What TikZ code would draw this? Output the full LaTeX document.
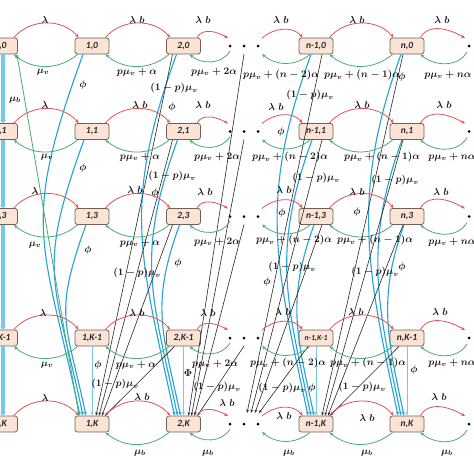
\documentclass[tikz,border=0pt]{standalone}
\usepackage{fontspec}
\newfontfamily\nodefont{Carlito}
\usetikzlibrary{arrows.meta}
\definecolor{redarc}{RGB}{222,84,84}
\definecolor{greenarc}{RGB}{72,172,118}
\definecolor{phiblue}{RGB}{34,164,214}
\definecolor{lightphi}{RGB}{120,200,232}
\definecolor{nodefill}{RGB}{251,228,214}
\definecolor{nodeedge}{RGB}{112,96,88}
\tikzset{
  st/.style={draw=nodeedge, fill=nodefill, rounded corners=2.5pt, line width=0.8pt,
    minimum width=34pt, minimum height=16pt, inner sep=0pt,
    font=\nodefont\bfseries\itshape\fontsize{9.5}{10}\selectfont, text=black!85},
  dotn/.style={circle, fill=black, inner sep=0pt, minimum size=3pt},
  ra/.style={draw=redarc, line width=0.8pt, -{Stealth[length=4pt,width=3.2pt]}},
  ga/.style={draw=greenarc, line width=0.8pt, -{Stealth[length=4pt,width=3.2pt]}},
  pa/.style={draw=phiblue, line width=1.1pt, -{Stealth[length=4pt,width=3pt]}},
  pl/.style={draw=lightphi, line width=1pt, -{Stealth[length=4pt,width=3pt]}},
  band/.style={draw=lightphi, line width=4.5pt, -{Stealth[length=3pt,width=6pt]}},
  ba/.style={draw=black!85, line width=0.6pt, -{Stealth[length=3.5pt,width=2.6pt]}},
  lab/.style={font=\fontsize{10.3}{12}\selectfont\boldmath, inner sep=0pt, text=black!90},
}
\begin{document}
\begin{tikzpicture}[x=1pt,y=-1pt]
\useasboundingbox (0,0) rectangle (474,474);
\fill[white] (0,0) rectangle (474,474);
\clip (0,0) rectangle (474,474);

% ---------------- nodes ----------------
\foreach \r/\y/\t in {0/46/0, 1/131.5/1, 3/216.5/3, K/424/K} {
  \node[st] (s0\r) at (0.5,\y) {0,\t};
  \node[st] (s1\r) at (92,\y) {1,\t};
  \node[st] (s2\r) at (183.5,\y) {2,\t};
  \node[st] (sm\r) at (316,\y) {n-1,\t};
  \node[st] (sn\r) at (407,\y) {n,\t};
}
\node[st] (s0k) at (0.5,338) {0,K-1};
\node[st] (s1k) at (92,338) {1,K-1};
\node[st] (s2k) at (183.5,338) {2,K-1};
\node[st,font=\nodefont\bfseries\itshape\fontsize{7.8}{9}\selectfont] (smk) at (316,338) {n-1,K-1};
\node[st] (snk) at (407,338) {n,K-1};
\foreach \r/\y in {0/46, 1/131.5, 3/216.5, k/338, K/424} {
  \node[dotn] (da\r) at (230,\y) {};
  \node[dotn] (db\r) at (244,\y) {};
  \node[dotn] (dc\r) at (258,\y) {};
  \node[dotn] (de\r) at (469,\y) {};
}
\node[dotn] (vd1) at (3,265) {};
\node[dotn] (vd2) at (3,277) {};
\node[dotn] (vd3) at (3,288) {};

% ---------------- column 0 band ----------------
\draw[band] ([shift={(2.5,0)}]s00.south) -- ([shift={(2.5,0)}]s01.north);
\draw[band] ([shift={(2.5,0)}]s01.south) -- ([shift={(2.5,0)}]s03.north);
\draw[band] ([shift={(2.5,0)}]s03.south) -- ([shift={(2.5,0)}]s0k.north);
\draw[band] ([shift={(2.5,0)}]s0k.south) -- ([shift={(2.5,0)}]s0K.north);

% ---------------- phi lines (blue) ----------------
\foreach \c/\a/\b/\e in {1/-9/-12/1.3, 2/-7/-9/1.15, m/-5/-8/1.1, n/-6/-9/1.05} {
  \draw[pa] ([shift={(\a,0)}]s\c0.south) to[out=-110,in=102,looseness=\e] ([shift={(\b,0)}]s\c K.north);
  \draw[pa] ([shift={(\a+1,0)}]s\c1.south) to[out=-110,in=102,looseness=\e] ([shift={(\b+3,0)}]s\c K.north);
  \draw[pa] ([shift={(\a+3,0)}]s\c3.south) to[out=-110,in=102,looseness=\e] ([shift={(\b+6,0)}]s\c K.north);
  \draw[pl] (s\c k.south) -- (s\c K.north);
}

% ---------------- (1-p)mu_v lines (black) ----------------
\draw[ba] ([shift={(-11,0)}]s20.south) -- ([shift={(4,0)}]s1K.north);
\draw[ba] ([shift={(-11,0)}]s21.south) -- ([shift={(7,0)}]s1K.north);
\draw[ba] ([shift={(-11,0)}]s23.south) -- ([shift={(10,0)}]s1K.north);
\draw[ba] ([shift={(-9,0)}]s2k.south) -- ([shift={(13,0)}]s1K.north);
\draw[ba] ([shift={(0,8)}]db0.center) -- ([shift={(5,0)}]s2K.north);
\draw[ba] ([shift={(0,8)}]db1.center) -- ([shift={(8,0)}]s2K.north);
\draw[ba] ([shift={(0,8)}]db3.center) -- ([shift={(11,0)}]s2K.north);
\draw[ba] ([shift={(0,8)}]dbk.center) -- ([shift={(14,0)}]s2K.north);
\draw[ba] ([shift={(6,0)}]sm0.south) -- ([shift={(3,-11)}]dbK.center);
\draw[ba] ([shift={(6,0)}]sm1.south) -- ([shift={(7,-11)}]dbK.center);
\draw[ba] ([shift={(6,0)}]sm3.south) -- ([shift={(11,-11)}]dbK.center);
\draw[ba] ([shift={(-8,0)}]smk.south) -- ([shift={(15,-11)}]dbK.center);
\draw[ba] ([shift={(-4,0)}]sn0.south) -- ([shift={(6,0)}]smK.north);
\draw[ba] ([shift={(-4,0)}]sn1.south) -- ([shift={(9,0)}]smK.north);
\draw[ba] ([shift={(-4,0)}]sn3.south) -- ([shift={(12,0)}]smK.north);
\draw[ba] ([shift={(-8,0)}]snk.south) -- ([shift={(14,0)}]smK.north);

% green repair line
\draw[ga] ([shift={(-13,0)}]s1K.north) -- ([shift={(-1,0)}]s00.south east);

% ---------------- red forward arcs ----------------
\foreach \r in {0,1,3,k,K} {
  \draw[ra] ([shift={(-4,0)}]s0\r.north east) to[out=50,in=130] ([shift={(4,0)}]s1\r.north west);
  \draw[ra] ([shift={(-4,0)}]s1\r.north east) to[out=50,in=130] ([shift={(4,0)}]s2\r.north west);
  \draw[ra] ([shift={(-4,0)}]s2\r.north east) to[out=60,in=150] ([shift={(-2,-8)}]da\r.center);
  \draw[ra] ([shift={(4,-8)}]dc\r.center) to[out=40,in=130] ([shift={(4,0)}]sm\r.north west);
  \draw[ra] ([shift={(-4,0)}]sm\r.north east) to[out=50,in=130] ([shift={(4,0)}]sn\r.north west);
  \draw[ra] ([shift={(-4,0)}]sn\r.north east) to[out=60,in=150] ([shift={(-4,-8)}]de\r.center);
}
% ---------------- green backward arcs ----------------
\foreach \r in {0,1,3,k} {
  \draw[ga] ([shift={(3,0)}]s1\r.south west) to[out=-140,in=-40] ([shift={(-4,0)}]s0\r.south east);
}
\foreach \r in {0,1,3,k,K} {
  \draw[ga] ([shift={(3,0)}]s2\r.south west) to[out=-140,in=-40] ([shift={(-4,0)}]s1\r.south east);
  \draw[ga] ([shift={(0,5)}]da\r.center) to[out=-120,in=-40] ([shift={(6,0)}]s2\r.south);
  \draw[ga] ([shift={(-6,0)}]sm\r.south) to[out=-140,in=-40] ([shift={(4,8)}]dc\r.center);
  \draw[ga] ([shift={(3,0)}]sn\r.south west) to[out=-140,in=-40] ([shift={(-4,0)}]sm\r.south east);
  \draw[ga] ([shift={(-2,6)}]de\r.center) to[out=-120,in=-40] ([shift={(-4,0)}]sn\r.south east);
}

% ---------------- labels ----------------
% row 0
\node[lab] (l01) at (45,20) {$\lambda$};
\node[lab] (l02) at (137,20) {$\lambda\ b$};
\node[lab] (l03) at (203,20) {$\lambda\ b$};
\node[lab] (l04) at (281,20) {$\lambda\ b$};
\node[lab] (l05) at (357,20) {$\lambda\ b$};
\node[lab] (l06) at (442,20) {$\lambda\ b$};
\node[lab] (g01) at (43,72) {$\mu_v$};
\node[lab] (g02) at (137,72) {$p\mu_v+\alpha$};
\node[lab] (g03) at (214,72) {$p\mu_v+2\alpha$};
\node[lab] (g04) at (281,75) {$p\mu_v+(n-2)\alpha$};
\node[lab] (g05) at (362,75) {$p\mu_v+(n-1)\alpha$};
\node[lab] (g06) at (448,75) {$p\mu_v+n\alpha$};
\node[lab] (mb0) at (15,100) {$\mu_b$};
\node[lab] (f01) at (83,85) {$\phi$};
\node[lab] (f02) at (172,107) {$\phi$};
\node[lab] (f03) at (402,77) {$\phi$};
\node[lab] (q01) at (174,88) {$(1-p)\mu_v$};
\node[lab] (q02) at (310,95) {$(1-p)\mu_v$};
% row 1
\node[lab] (l11) at (45,105) {$\lambda$};
\node[lab] (l12) at (140,105) {$\lambda\ b$};
\node[lab] (l13) at (203,105) {$\lambda\ b$};
\node[lab] (l14) at (276,107) {$\lambda\ b$};
\node[lab] (l15) at (362,105) {$\lambda\ b$};
\node[lab] (l16) at (444,105) {$\lambda\ b$};
\node[lab] (g11) at (47,157) {$\mu_v$};
\node[lab] (g12) at (140,157) {$p\mu_v+\alpha$};
\node[lab] (g13) at (217,157) {$p\mu_v+2\alpha$};
\node[lab] (g14) at (290,157) {$p\mu_v+(n-2)\alpha$};
\node[lab] (g15) at (382,157) {$p\mu_v+(n-1)\alpha$};
\node[lab] (g16) at (452,157) {$p\mu_v+n\alpha$};
\node[lab] (f11) at (83,168) {$\phi$};
\node[lab] (f12) at (155,193) {$\phi$};
\node[lab] (f13) at (281,132) {$\phi$};
\node[lab] (q11) at (172,176) {$(1-p)\mu_v$};
\node[lab] (q12) at (316,178) {$(1-p)\mu_v$};
\node[lab] (q13) at (395,180) {$(1-p)\mu_v$};
% row 3
\node[lab] (l31) at (35,191) {$\lambda$};
\node[lab] (l32) at (135,190) {$\lambda\ b$};
\node[lab] (l33) at (205,192) {$\lambda\ b$};
\node[lab] (l34) at (284,190) {$\lambda\ b$};
\node[lab] (l35) at (357,192) {$\lambda\ b$};
\node[lab] (l36) at (441,192) {$\lambda\ b$};
\node[lab] (g31) at (35,245) {$\mu_v$};
\node[lab] (g32) at (140,243) {$p\mu_v+\alpha$};
\node[lab] (g33) at (217,242) {$p\mu_v+2\alpha$};
\node[lab] (g34) at (294,240) {$p\mu_v+(n-2)\alpha$};
\node[lab] (g35) at (375,240) {$p\mu_v+(n-1)\alpha$};
\node[lab] (g36) at (452,242) {$p\mu_v+n\alpha$};
\node[lab] (f31) at (88,250) {$\phi$};
\node[lab] (f32) at (178,263) {$\phi$};
\node[lab] (f33) at (282,213) {$\phi$};
\node[lab] (f34) at (357,212) {$\phi$};
\node[lab] (f35) at (402,267) {$\phi$};
\node[lab] (f36) at (267,282) {$\phi$};
\node[lab] (q31) at (137,273) {$(1-p)\mu_v$};
\node[lab] (q32) at (292,267) {$(1-p)\mu_v$};
\node[lab] (q33) at (375,272) {$(1-p)\mu_v$};
% row K-1
\node[lab] (lk1) at (43,313) {$\lambda$};
\node[lab] (lk2) at (137,313) {$\lambda\ b$};
\node[lab] (lk3) at (208,313) {$\lambda\ b$};
\node[lab] (lk4) at (283,312) {$\lambda\ b$};
\node[lab] (lk5) at (356,312) {$\lambda\ b$};
\node[lab] (lk6) at (440,312) {$\lambda\ b$};
\node[lab] (gk1) at (47,365) {$\mu_v$};
\node[lab] (gk2) at (136,365) {$p\mu_v+\alpha$};
\node[lab] (gk3) at (215,364) {$p\mu_v+2\alpha$};
\node[lab] (gk4) at (288,363) {$p\mu_v+(n-2)\alpha$};
\node[lab] (gk5) at (368,363) {$p\mu_v+(n-1)\alpha$};
\node[lab] (gk6) at (452,363) {$p\mu_v+n\alpha$};
\node[lab] (fk1) at (98,365) {$\phi$};
\node[lab] (fk2) at (188,373) {$\Phi$};
\node[lab] (fk3) at (312,388) {$\phi$};
\node[lab] (fk4) at (414,370) {$\phi$};
\node[lab] (qk1) at (115,384) {$(1-p)\mu_v$};
\node[lab] (qk2) at (217,387) {$(1-p)\mu_v$};
\node[lab] (qk3) at (282,388) {$(1-p)\mu_v$};
\node[lab] (qk4) at (362,387) {$(1-p)\mu_v$};
% row K
\node[lab] (lK1) at (45,398) {$\lambda$};
\node[lab] (lK2) at (142,397) {$\lambda\ b$};
\node[lab] (lK3) at (227,403) {$\lambda\ b$};
\node[lab] (lK4) at (284,416) {$\lambda\ b$};
\node[lab] (lK5) at (367,418) {$\lambda\ b$};
\node[lab] (lK6) at (439,397) {$\lambda\ b$};
\node[lab] (gK2) at (140,453) {$\mu_b$};
\node[lab] (gK3) at (208,453) {$\mu_b$};
\node[lab] (gK4) at (289,453) {$\mu_b$};
\node[lab] (gK5) at (367,453) {$\mu_b$};
\node[lab] (gK6) at (447,453) {$\mu_b$};
\end{tikzpicture}
\end{document}
